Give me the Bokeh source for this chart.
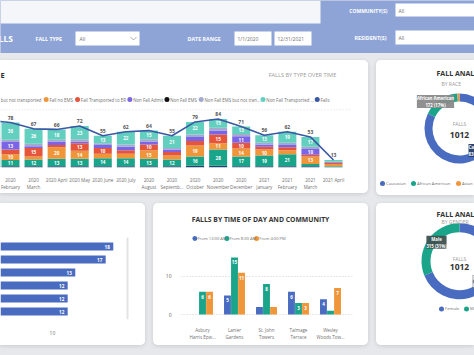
import math
from bokeh.plotting import figure
from bokeh.models import Range1d, FixedTicker, ColumnDataSource, Label, Span
from bokeh.layouts import row, column
from bokeh.transform import dodge
from bokeh.embed import file_html
from bokeh.resources import INLINE
from bokeh.core.properties import value

FONT = value("Open Sans")

# ---------------- data ----------------
months = ["2020 January", "2020 February", "2020 March", "2020 April", "2020 May",
          "2020 June", "2020 July", "2020 August", "2020 September", "2020 October",
          "2020 November", "2020 December", "2021 January", "2021 February",
          "2021 March", "2021 April"]
month_ticks = ["2020\nJanuary", "2020\nFebruary", "2020\nMarch", "2020 April", "2020 May",
               "2020 June", "2020 July", "2020\nAugust", "2020\nSeptemb...", "2020\nOctober",
               "2020\nNovember", "2020\nDecember", "2021\nJanuary", "2021\nFebruary",
               "2021\nMarch", "2021 April"]
series_names = ["Fall Admit", "Fall EMS but not transported", "Fall no EMS",
                "Fall Transported to ER", "Non Fall Admit", "Non Fall EMS",
                "Non Fall EMS but not transported", "Non Fall Transported to ER"]
legend_names = ["Fall EMS but not transported", "Fall no EMS", "Fall Transported to ER",
                "Non Fall Admit", "Non Fall EMS", "Non Fall EMS but not tran...",
                "Non Fall Transported ...", "Falls"]
fall_admit = [2, 2, 2, 2, 2, 2, 2, 2, 2, 3, 3, 2, 2, 2, 2, 1]
fall_ems_not_transported = [16, 11, 12, 13, 13, 14, 14, 13, 12, 16, 28, 17, 19, 21, 4, 1]
fall_no_ems = [12, 10, 5, 20, 14, 8, 8, 15, 7, 19, 11, 14, 10, 7, 13, 4]
fall_transported_er = [10, 8, 15, 4, 13, 10, 6, 10, 6, 8, 15, 10, 5, 5, 3, 2]
non_fall_admit = [12, 13, 3, 6, 3, 5, 6, 5, 4, 7, 7, 11, 4, 4, 10, 1]
non_fall_ems = [0, 0, 0, 0, 0, 0, 0, 0, 0, 0, 0, 0, 0, 0, 0, 0]
non_fall_ems_not_transported = [5, 4, 4, 3, 4, 3, 4, 4, 3, 4, 5, 4, 3, 4, 4, 1]
non_fall_transported_er = [25, 30, 26, 18, 23, 13, 22, 15, 21, 22, 15, 13, 13, 19, 17, 3]
falls_total = [82, 78, 67, 66, 72, 55, 62, 64, 55, 79, 84, 71, 56, 62, 53, 13]

residents = ["Resident 1", "Resident 2", "Resident 3", "Resident 4", "Resident 5", "Resident 6"]
resident_falls = [18, 17, 13, 12, 12, 12]

communities = ["Asbury Harris Epw...", "Lanier Gardens", "St. John Towers",
               "Talmage Terrace", "Wesley Woods Tow..."]
community_ticks = ["Asbury\nHarris Epw...", "Lanier\nGardens", "St. John\nTowers",
                   "Talmage\nTerrace", "Wesley\nWoods Tow..."]
time_bands = ["From 12:00 AM", "From 8:00 AM", "From 4:00 PM"]
from_12am = [0, 5, 2, 6, 4]
from_8am = [6, 15, 8, 3, 1]
from_4pm = [6, 11, 2, 3, 7]

race_labels = ["Caucasian", "African American", "Asian ..."]
race_falls = [830, 172, 10]
gender_labels = ["Female", "Male"]
gender_falls = [697, 315]

# ---------------- styles ----------------
C_BLUE = "#4a6cc0"
C_TEAL = "#1aa58a"
C_ORANGE = "#f0963a"
series_colors = ["#23406e", "#1aa58a", "#f0963a", "#e5553b", "#7a64e8", "#111111",
                 "#a3aacd", "#62cfbf"]
legend_colors = series_colors[1:] + ["#3b58a5"]
C_LINE = "#3b58a5"
PAGE = "#e7e8ec"
BAND = "#8ea4d6"
DARK = "#333333"
GREY = "#707070"
LIGHT = "#9a9a9a"


def card(radius):
    return {"border-radius": radius, "box-shadow": "0 1px 4px rgba(0,0,0,0.13)",
            "overflow": "hidden", "background-color": "white"}


def base(w, h, xr, yr, axes=False, **kw):
    if axes:
        p = figure(width=w, height=h, x_range=xr, y_range=yr, toolbar_location=None,
                   output_backend="svg", min_border=0, **kw)
    else:
        p = figure(width=w, height=h, x_range=xr, y_range=yr, toolbar_location=None,
                   output_backend="svg", min_border=0, x_axis_type=None,
                   y_axis_type=None, **kw)
    p.outline_line_color = None
    p.background_fill_color = "white"
    p.border_fill_color = "white"
    p.grid.visible = False
    return p


def txt(p, x, y, s, size, color, bold=False, align="left", **kw):
    p.text(x=[x], y=[y], text=[s], text_font=FONT, text_font_size=size,
           text_color=color, text_align=align, text_baseline="middle",
           text_font_style="bold" if bold else "normal", **kw)


def style_axis(ax, size="5px"):
    ax.axis_line_color = None
    ax.major_tick_line_color = None
    ax.minor_tick_line_color = None
    ax.major_label_text_font = "Open Sans"
    ax.major_label_text_font_size = size
    ax.major_label_text_color = GREY


# ---------------- header ----------------
head = base(474, 53, Range1d(0, 474), Range1d(53, 0))
head.background_fill_color = BAND
head.border_fill_color = BAND
head.quad(left=[0], right=[320], top=[0], bottom=[23], color="#f5f6f9", line_color=None)
head.quad(left=[395, 395, 75, 234, 274], right=[474, 474, 139, 271, 311],
          top=[3, 30, 31, 31, 31], bottom=[16, 44, 45, 45, 45], color="white", line_color=None)
txt(head, 387, 10, "COMMUNITY(S)", "5px", "white", bold=True, align="right")
txt(head, 398, 10, "All", "5px", GREY)
txt(head, 12.5, 37.5, "FALLS", "8.5px", "white", bold=True, align="right")
txt(head, 35, 38, "FALL TYPE", "5.3px", "white", bold=True)
txt(head, 79, 38.5, "All", "5px", GREY)
head.line(x=[130, 133, 136], y=[36.5, 39.5, 36.5], line_color="#aaaaaa", line_width=1)
txt(head, 187, 38, "DATE RANGE", "5.3px", "white", bold=True)
txt(head, 237, 38.5, "1/1/2020", "5px", GREY)
txt(head, 277, 38.5, "12/31/2021", "5px", GREY)
txt(head, 386, 37, "RESIDENT(S)", "5.3px", "white", bold=True, align="right")
txt(head, 398, 37.5, "All", "5px", GREY)

# ---------------- panel 1 : falls by type over time ----------------
p1h = base(368, 47, Range1d(0, 368), Range1d(107, 60))
txt(p1h, 0, 74, "E", "7.5px", DARK, bold=True)
txt(p1h, 353, 74, "FALLS BY TYPE OVER TIME", "5.6px", LIGHT, align="right")
leg_x = [48, 81, 136, 175, 211, 276, 333]
txt(p1h, 43, 99, legend_names[0], "4.4px", GREY, align="right")
p1h.scatter(x=leg_x, y=[99] * len(leg_x), size=5, color=legend_colors[1:], line_color=None)
p1h.text(x=[v + 3.5 for v in leg_x], y=[99] * len(leg_x), text=legend_names[1:],
         text_font=FONT, text_font_size="4.4px", text_color=GREY, text_baseline="middle")

x_idx = list(range(len(months)))
series_lists = [fall_admit, fall_ems_not_transported, fall_no_ems, fall_transported_er,
                non_fall_admit, non_fall_ems, non_fall_ems_not_transported,
                non_fall_transported_er]
keys = ["s%d" % i for i in range(len(series_lists))]
src1 = ColumnDataSource(dict(x=x_idx, **{k: v for k, v in zip(keys, series_lists)}))

X1 = Range1d(0.567, 15.737)
p1c = base(368, 86, X1, Range1d(0, 104), axes=True, y_axis_type=None)
p1c.min_border_right = 18
p1c.min_border_bottom = 26
p1c.add_layout(Span(location=100, dimension="width", line_color="#dcdcdc",
                    line_dash="1 2", line_width=1))
p1c.vbar_stack(keys, x="x", width=0.78, color=series_colors, source=src1, line_color=None)
shown = [i for i in x_idx if X1.start <= i <= X1.end]
lx, ly, lt = [], [], []
for i in shown:
    cum = 0
    for s in series_lists:
        v = s[i]
        if v >= 10:
            lx.append(i)
            ly.append(cum + v / 2)
            lt.append(str(v))
        cum += v
p1c.text(x=lx, y=ly, text=lt, text_font=FONT, text_font_size="4.6px", text_color="white",
         text_align="center", text_baseline="middle", text_font_style="bold")
p1c.line(x=x_idx, y=falls_total, line_color=C_LINE, line_width=1.6)
p1c.text(x=shown, y=[falls_total[i] + 8.5 for i in shown],
         text=[str(falls_total[i]) for i in shown],
         text_font=FONT, text_font_size="5px", text_color="#555555", text_align="center",
         text_baseline="middle", text_font_style="bold")
p1c.xaxis.ticker = FixedTicker(ticks=shown)
p1c.xaxis.major_label_overrides = {i: month_ticks[i] for i in shown}
style_axis(p1c.xaxis[0], "4.6px")
p1c.xaxis.major_label_standoff = 3

panel1 = column(p1h, p1c, styles=card("0 5px 5px 0"), margin=(7, 8, 5, 0))

# ---------------- donut helper ----------------
def donut(p, cx, cy, r_in, r_out, vals, colors):
    total = sum(vals)
    starts, ends = [], []
    cum = 0
    for v in vals:
        starts.append(math.pi / 2 - 2 * math.pi * cum / total)
        cum += v
        ends.append(math.pi / 2 - 2 * math.pi * cum / total)
    src = ColumnDataSource(dict(s=starts, e=ends, c=colors))
    p.annular_wedge(x=cx, y=cy, inner_radius=r_in, outer_radius=r_out, start_angle="s",
                    end_angle="e", direction="clock", color="c", line_color=None, source=src)
    return total


def pct(v, total):
    return "%d (%d%%)" % (v, round(100 * v / total))


def tip(p, x, y, s, bg, align="center"):
    p.add_layout(Label(x=x, y=y, text=s, text_font="Open Sans", text_font_size="4.3px",
                       text_color="white", text_font_style="bold", text_align=align,
                       text_baseline="middle", background_fill_color=bg,
                       background_fill_alpha=0.95))


# ---------------- panel 2 : race donut ----------------
p2 = base(98, 135, Range1d(376, 474), Range1d(0, 135))
ry2 = lambda y: 195 - y
tot_r = donut(p2, 459, ry2(128), 27, 35, race_falls, [C_BLUE, C_TEAL, C_ORANGE])
txt(p2, 436, ry2(73), "FALL ANALYSIS", "7px", DARK, bold=True)
txt(p2, 441, ry2(83), "BY RACE", "5px", LIGHT)
txt(p2, 459, ry2(123), "FALLS", "5px", LIGHT, align="center")
txt(p2, 459, ry2(134), str(tot_r), "8.5px", DARK, bold=True, align="center")
tip(p2, 435, ry2(101), race_labels[1] + "\n" + pct(race_falls[1], tot_r), "#8a8a8a")
tip(p2, 468, ry2(150), race_labels[0] + "\n" + pct(race_falls[0], tot_r), "#263b66", "left")
lg2 = [382, 413, 458]
p2.scatter(x=lg2, y=[ry2(183)] * 3, size=5, color=[C_BLUE, C_TEAL, C_ORANGE], line_color=None)
p2.text(x=[v + 3.5 for v in lg2], y=[ry2(183)] * 3, text=race_labels, text_font=FONT,
        text_font_size="4.2px", text_color=GREY, text_baseline="middle")
p2.styles = card("5px 0 0 5px")
p2.margin = (7, 0, 3, 0)

# ---------------- panel 3 : residents bars ----------------
p3 = base(145, 142, Range1d(3.16, 22.24), Range1d(5.69, -3.31), axes=True, y_axis_type=None)
p3.min_border_bottom = 25
r_idx = list(range(len(residents)))
p3.hbar(y=r_idx, left=0, right=resident_falls, height=0.62, color=C_BLUE, line_color=None)
p3.text(x=[v - 0.45 for v in resident_falls], y=r_idx, text=[str(v) for v in resident_falls],
        text_font=FONT, text_font_size="4.6px", text_color="white", text_align="right",
        text_baseline="middle", text_font_style="bold")
p3.xaxis.ticker = FixedTicker(ticks=[0, 10])
style_axis(p3.xaxis[0], "5px")
p3.xaxis.major_label_standoff = 4
p3.extra_x_ranges = {"px": Range1d(0, 145)}
p3.extra_y_ranges = {"py": Range1d(320, 203)}
p3.segment(x0=[127], y0=[238], x1=[127], y1=[318], line_color="#e4e4e4", line_width=2,
           line_cap="round", x_range_name="px", y_range_name="py")
p3.styles = card("0 5px 5px 0")
p3.margin = (5, 8, 10, 0)

# ---------------- panel 4 : time of day by community ----------------
p4h = base(215, 47, Range1d(153, 368), Range1d(250, 203))
txt(p4h, 167, 219, "FALLS BY TIME OF DAY AND COMMUNITY", "6.8px", DARK, bold=True)
lg4 = [171, 211, 248]
p4h.scatter(x=lg4, y=[238] * 3, size=5, color=[C_BLUE, C_TEAL, C_ORANGE], line_color=None)
p4h.text(x=[v + 3.5 for v in lg4], y=[238] * 3, text=time_bands, text_font=FONT,
         text_font_size="4.1px", text_color=GREY, text_baseline="middle")

c_idx = list(range(len(communities)))
src4 = ColumnDataSource(dict(x=c_idx, a=from_12am, b=from_8am, c=from_4pm))
p4c = base(215, 95, Range1d(-0.6875, 4.6875), Range1d(-1.05, 16.84), axes=True)
p4c.min_border_left = 27
p4c.min_border_right = 16
p4c.min_border_bottom = 27
p4c.ygrid.visible = True
p4c.ygrid.ticker = FixedTicker(ticks=[0, 10])
p4c.ygrid.grid_line_color = "#cfcfcf"
p4c.ygrid.grid_line_dash = "1 2"
p4c.xgrid.visible = False
off = 0.22
for col, dx, colr in [("a", -off, C_BLUE), ("b", 0.0, C_TEAL), ("c", off, C_ORANGE)]:
    p4c.vbar(x=dodge("x", dx, range=p4c.x_range), top=col, width=0.215, color=colr,
             line_color=None, source=src4)
for vals, dx in [(from_12am, -off), (from_8am, 0.0), (from_4pm, off)]:
    xs = [i + dx for i, v in zip(c_idx, vals) if v >= 3]
    ys = [v - 1.3 for v in vals if v >= 3]
    ts = [str(v) for v in vals if v >= 3]
    p4c.text(x=xs, y=ys, text=ts, text_font=FONT, text_font_size="4.6px",
             text_color="white", text_align="center", text_baseline="middle",
             text_font_style="bold")
p4c.xaxis.ticker = FixedTicker(ticks=c_idx)
p4c.xaxis.major_label_overrides = {i: community_ticks[i] for i in c_idx}
style_axis(p4c.xaxis[0], "4.5px")
p4c.xaxis.major_label_standoff = 2
p4c.yaxis.ticker = FixedTicker(ticks=[0, 10])
style_axis(p4c.yaxis[0], "5px")
p4c.yaxis.major_label_text_color = "#606060"
p4c.yaxis.major_label_standoff = 3

panel4 = column(p4h, p4c, styles=card("5px"), margin=(5, 8, 10, 0))

# ---------------- panel 5 : gender donut ----------------
p5 = base(98, 142, Range1d(376, 474), Range1d(0, 142))
ry5 = lambda y: 345 - y
tot_g = donut(p5, 459, ry5(273), 29, 38, gender_falls, [C_BLUE, C_TEAL])
txt(p5, 436, ry5(216), "FALL ANALYSIS", "7px", DARK, bold=True)
txt(p5, 441, ry5(226), "BY GENDER", "5px", LIGHT)
txt(p5, 459, ry5(270), "FALLS", "5px", LIGHT, align="center")
txt(p5, 459, ry5(280), str(tot_g), "8.5px", DARK, bold=True, align="center")
tip(p5, 436, ry5(250), gender_labels[1] + "\n" + pct(gender_falls[1], tot_g), "#3e5250")
tip(p5, 472, ry5(298), gender_labels[0] + "\n" + pct(gender_falls[0], tot_g), "#7c7c7c", "left")
lg5 = [441, 466]
p5.scatter(x=lg5, y=[ry5(331)] * 2, size=5, color=[C_BLUE, C_TEAL], line_color=None)
p5.text(x=[v + 3.5 for v in lg5], y=[ry5(331)] * 2, text=gender_labels, text_font=FONT,
        text_font_size="4.2px", text_color=GREY, text_baseline="middle")
p5.styles = card("5px 0 0 5px")
p5.margin = (5, 0, 10, 0)

# ---------------- layout ----------------
layout = column(head, row(panel1, p2), row(p3, panel4, p5),
                styles={"background-color": PAGE})

open("out.html", "w").write(file_html(layout, INLINE))
